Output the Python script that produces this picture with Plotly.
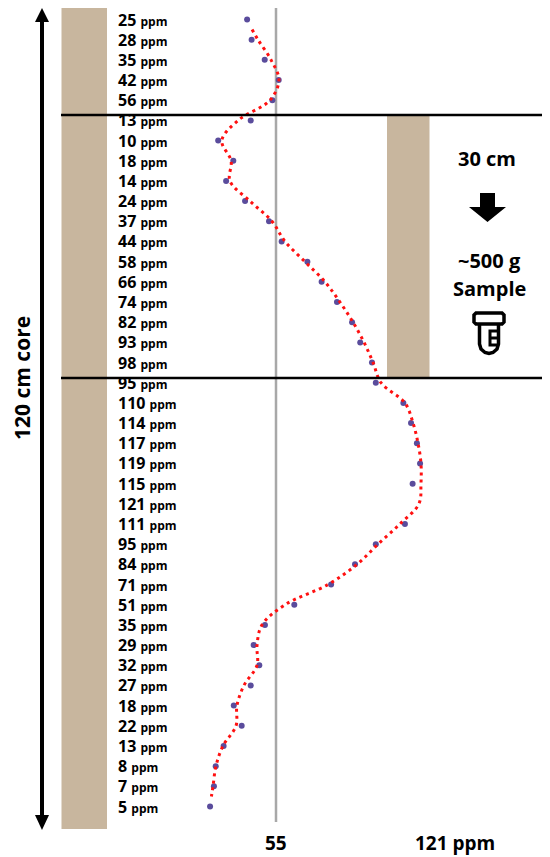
import plotly.graph_objects as go

# depth rows, top (1) to bottom (40)
ppm_labels = [25, 28, 35, 42, 56, 13, 10, 18, 14, 24, 37, 44, 58, 66, 74, 82, 93, 98, 95,
              110, 114, 117, 119, 115, 121, 111, 95, 84, 71, 51, 35, 29, 32, 27, 18, 22,
              13, 8, 7, 5]
rows = list(range(1, 41))

# where the dots sit on the axis (no dot on the 121 row)
point_x = [42.2, 44.2, 50.0, 56.2, 53.4, 43.8, 29.4, 36.1, 32.9, 41.3, 51.9, 57.5, 68.9,
           75.2, 82.0, 88.7, 92.3, 97.5, 99.2, 111.4, 114.8, 117.4, 118.8, 115.5, None,
           112.1, 99.2, 90.0, 79.4, 63.1, 50.1, 45.1, 47.6, 43.8, 36.3, 39.8, 31.8, 28.3,
           27.5, 25.8]

# smoothed red dotted trend
curve_rows = [1.5] + list(range(2, 40)) + [39.5]
curve_x = [44.4, 47.0, 52.8, 56.3, 52.3, 38.2, 31.0, 35.1, 34.6, 43.5, 53.2, 59.0, 67.8,
           76.7, 83.3, 89.1, 94.0, 98.0, 101.5, 112.1, 115.7, 117.9, 119.2, 119.2, 118.3,
           109.9, 100.2, 90.9, 78.0, 59.0, 48.8, 46.6, 46.6, 40.8, 37.7, 37.3, 31.5, 28.4,
           27.1, 26.4]

ref_line = 55
max_val = 121

# page has an 8px body margin, so the figure is drawn 8px in from the corner
OFF = 8
W, H = 550 - OFF, 857 - OFF
FONT = "Open Sans"
CORE = "#C8B69E"
PX_PER_PPM = 2.258
PX_PER_ROW = 20.18


def fx(px):
    return (px - OFF) / W


def fy(py):
    return 1 - (py - OFF) / H


def path(pts, close=True):
    s = "M " + " L ".join(f"{fx(a):.5f},{fy(b):.5f}" for a, b in pts)
    return s + (" Z" if close else "")


fig = go.Figure()

fig.add_trace(go.Scatter(
    x=point_x, y=rows, mode="markers",
    marker=dict(color="#5A4C9C", size=6, line=dict(width=0)),
    showlegend=False, hoverinfo="skip",
))
fig.add_trace(go.Scatter(
    x=curve_x, y=curve_rows, mode="lines",
    line=dict(color="#FF1010", width=3, dash="3px,4px", shape="spline", smoothing=1),
    showlegend=False, hoverinfo="skip",
))

shapes = []
# core strips
shapes.append(dict(type="rect", xref="paper", yref="paper", x0=fx(61.5), x1=fx(107),
                   y0=fy(829), y1=fy(8), fillcolor=CORE, line=dict(width=0), layer="below"))
shapes.append(dict(type="rect", xref="paper", yref="paper", x0=fx(387), x1=fx(429.5),
                   y0=fy(378), y1=fy(115), fillcolor=CORE, line=dict(width=0), layer="below"))
# 30 cm section boundaries
for yy in (115, 378):
    shapes.append(dict(type="line", xref="paper", yref="paper", x0=fx(61), x1=fx(543),
                       y0=fy(yy), y1=fy(yy), line=dict(color="black", width=2.5)))
# reference line at 55 ppm
shapes.append(dict(type="line", xref="x", yref="paper", x0=ref_line, x1=ref_line,
                   y0=fy(822), y1=fy(8), line=dict(color="#A8A8A8", width=2.5), layer="below"))
# left double arrow
shapes.append(dict(type="line", xref="paper", yref="paper", x0=fx(42), x1=fx(42),
                   y0=fy(818), y1=fy(18), line=dict(color="black", width=4)))
shapes.append(dict(type="path", xref="paper", yref="paper",
                   path=path([(42, 8), (35, 22), (49, 22)]), fillcolor="black",
                   line=dict(width=0)))
shapes.append(dict(type="path", xref="paper", yref="paper",
                   path=path([(42, 830), (35, 815), (49, 815)]), fillcolor="black",
                   line=dict(width=0)))
# down arrow on the right
shapes.append(dict(type="path", xref="paper", yref="paper",
                   path=path([(480, 193), (495, 193), (495, 207), (506, 207), (487.5, 222),
                              (469, 207), (480, 207)]),
                   fillcolor="black", line=dict(width=0)))
# sample tube icon
shapes.append(dict(type="path", xref="paper", yref="paper",
                   path=path([(476, 313), (502, 313), (504, 315), (504, 322), (502, 324),
                              (476, 324), (474, 322), (474, 315)]),
                   fillcolor="rgba(0,0,0,0)", line=dict(color="black", width=3.5)))
shapes.append(dict(type="path", xref="paper", yref="paper",
                   path=path([(479.5, 324), (479.5, 344), (481, 349), (485, 352.5),
                              (489, 353.5), (493, 352.5), (497, 349), (498.5, 344),
                              (498.5, 324)], close=False),
                   fillcolor="rgba(0,0,0,0)", line=dict(color="black", width=3.5)))
shapes.append(dict(type="path", xref="paper", yref="paper",
                   path=path([(498, 331), (490, 331), (490, 345), (498, 345)], close=False),
                   fillcolor="rgba(0,0,0,0)", line=dict(color="black", width=3)))
shapes.append(dict(type="line", xref="paper", yref="paper", x0=fx(490), x1=fx(497),
                   y0=fy(338), y1=fy(338), line=dict(color="black", width=3)))

annotations = []
for r, v in zip(rows, ppm_labels):
    annotations.append(dict(
        x=fx(116), xref="paper", y=r, yref="y", xanchor="left", yanchor="middle",
        text=f"<b>{v}</b> <b><span style='font-size:12px'>ppm</span></b>",
        showarrow=False, font=dict(family=FONT, size=16, color="black"),
    ))


def label(px, py, text, size=20, **kw):
    d = dict(x=fx(px), xref="paper", y=fy(py), yref="paper", xanchor="center",
             yanchor="middle", text=text, showarrow=False,
             font=dict(family=FONT, size=size, color="black"))
    d.update(kw)
    return d


annotations += [
    dict(x=ref_line, xref="x", y=fy(843), yref="paper", xanchor="center", yanchor="middle",
         text="<b>55</b>", showarrow=False, font=dict(family=FONT, size=19, color="black")),
    dict(x=max_val, xref="x", xshift=-12, y=fy(843), yref="paper", xanchor="left",
         yanchor="middle", text="<b>121 ppm</b>", showarrow=False,
         font=dict(family=FONT, size=19, color="black")),
    label(22, 378, "<b>120 cm core</b>", size=21, textangle=-90, borderpad=0),
    label(487, 158, "<b>30 cm</b>"),
    label(489, 260, "<b>~500 g</b>"),
    label(489, 288, "<b>Sample</b>"),
]

fig.update_layout(
    width=W, height=H, autosize=False,
    margin=dict(l=0, r=0, t=0, b=0),
    paper_bgcolor="white", plot_bgcolor="white",
    xaxis=dict(range=[ref_line - (276 - OFF) / PX_PER_PPM, ref_line + (550 - 276) / PX_PER_PPM],
               visible=False, fixedrange=True),
    yaxis=dict(range=[1 + (857 - 19.5) / PX_PER_ROW, 1 - (19.5 - OFF) / PX_PER_ROW],
               visible=False, fixedrange=True),
    shapes=shapes, annotations=annotations,
    showlegend=False,
)

fig.write_html("out.html")
